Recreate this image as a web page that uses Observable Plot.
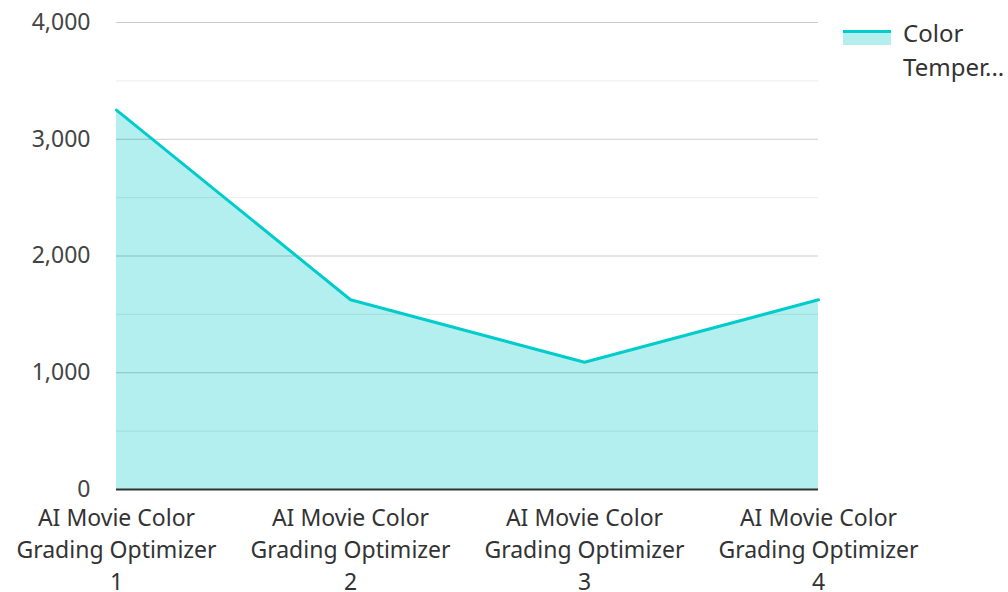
<!DOCTYPE html>
<html>
<head>
<meta charset="utf-8">
<script src="https://cdn.jsdelivr.net/npm/d3@7"></script>
<script src="https://cdn.jsdelivr.net/npm/@observablehq/plot@0.6"></script>
<style>
  html, body { margin: 0; padding: 0; background: #fff; }
  body { width: 1008px; height: 592px; position: relative; overflow: hidden; font-family: "Noto Sans", sans-serif; }
  #legend { position: absolute; left: 843px; top: 16px; font-size: 24px; color: #333; line-height: 34px; }
  #legend .sw { position: absolute; left: 0; top: 14px; width: 48px; height: 15px; background: #b2efee; border-top: 3px solid #00cccc; box-sizing: border-box; }
  #legend .txt { position: absolute; left: 60px; top: 0; white-space: nowrap; }
</style>
</head>
<body>
<div id="chart"></div>
<div id="legend"><div class="sw"></div><div class="txt">Color<br>Temper...</div></div>
<script>
const categories = [
  "AI Movie Color Grading Optimizer 1",
  "AI Movie Color Grading Optimizer 2",
  "AI Movie Color Grading Optimizer 3",
  "AI Movie Color Grading Optimizer 4"
];
const values = [3250, 1625, 1090, 1625];
const yTicks = [0, 1000, 2000, 3000, 4000];
const yMinor = [500, 1500, 2500, 3500];

const data = categories.map((c, i) => ({cat: c, v: values[i]}));

const wrap = s => s.replace("AI Movie Color ", "AI Movie Color\n").replace("Optimizer ", "Optimizer\n");

const chart = Plot.plot({
  width: 1008,
  height: 592,
  marginLeft: 116,
  marginRight: 190,
  marginTop: 22,
  marginBottom: 103,
  style: {fontFamily: "Noto Sans, sans-serif", fontSize: "23px", color: "#444", background: "#fff"},
  x: {type: "point", domain: categories, padding: 0, label: null},
  y: {domain: [0, 4000], label: null},
  marks: [
    Plot.areaY(data, {x: "cat", y: "v", fill: "#b2efee"}),
    Plot.ruleY(yMinor, {stroke: "#000", strokeOpacity: 0.08, strokeWidth: 1}),
    Plot.ruleY(yTicks.filter(d => d > 0), {stroke: "#000", strokeOpacity: 0.2, strokeWidth: 1}),
    Plot.lineY(data, {x: "cat", y: "v", stroke: "#00cccc", strokeWidth: 3}),
    Plot.ruleY([0], {stroke: "#333", strokeWidth: 2}),
    Plot.axisY({ticks: yTicks, tickFormat: d3.format(","), tickSize: 0, tickPadding: 26, fill: "#444", fontSize: 23, label: null}),
    Plot.axisX({tickFormat: wrap, tickSize: 0, tickPadding: 14, lineHeight: 1.39, fill: "#333", fontSize: 23, label: null})
  ]
});
document.getElementById("chart").appendChild(chart);
</script>
</body>
</html>
